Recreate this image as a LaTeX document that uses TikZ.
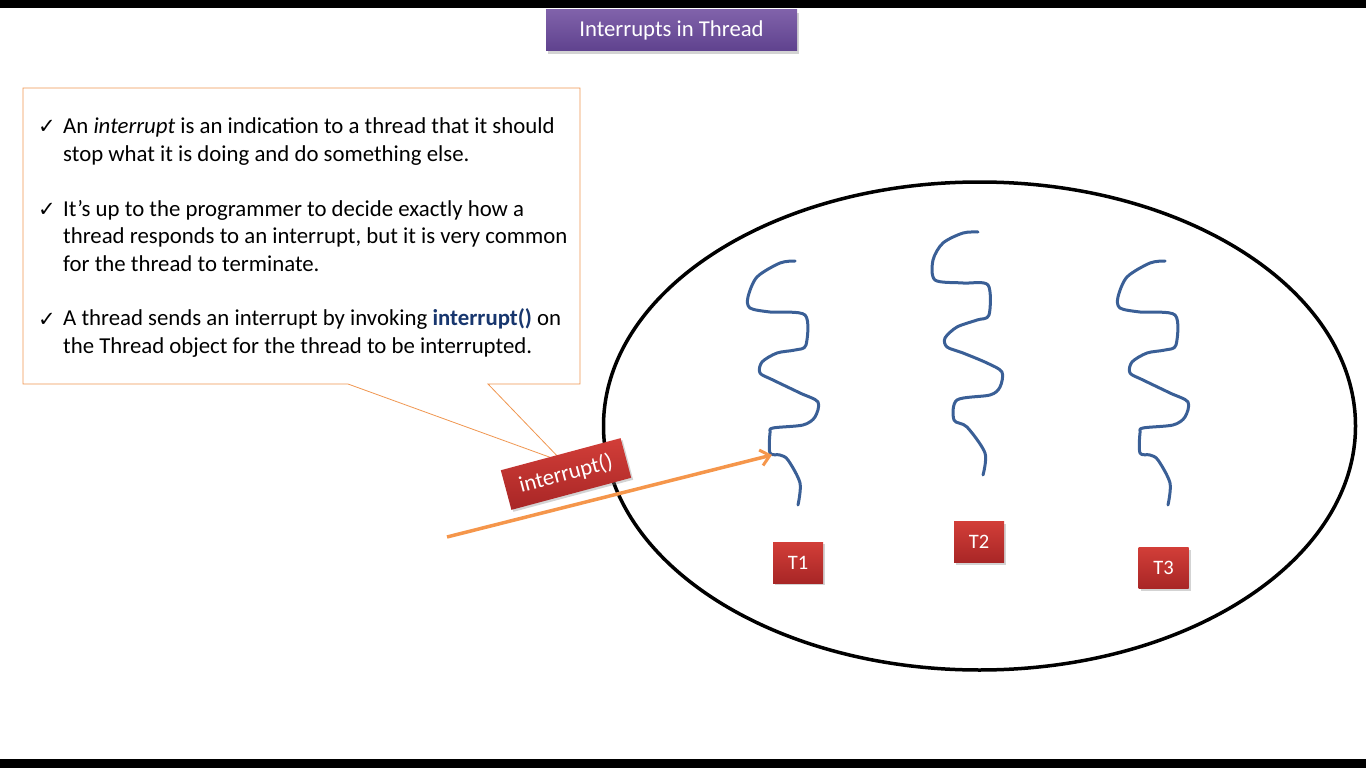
\documentclass[tikz,border=0pt]{standalone}
\usepackage{fontspec}
\setmainfont{Carlito}
\newfontfamily\symfont{DejaVu Sans}
\usepackage{xcolor}
\usepackage{tikz}
\usetikzlibrary{arrows.meta,positioning,shadows}

\definecolor{calloutorange}{RGB}{240,150,80}
\definecolor{arroworange}{RGB}{245,150,75}
\definecolor{threadblue}{RGB}{58,95,150}
\definecolor{codeblue}{RGB}{23,54,110}
\definecolor{boxredtop}{RGB}{210,62,56}
\definecolor{boxredbot}{RGB}{168,38,38}
\definecolor{titletop}{RGB}{128,98,170}
\definecolor{titlebot}{RGB}{95,66,142}
\newcommand{\chk}{{\symfont\fontsize{21pt}{21pt}\selectfont ✓}}

\begin{document}
\begin{tikzpicture}[x=1pt, y=-1pt,
  arr/.style={-{Straight Barb[length=9pt, width=16pt, line width=3pt]}, line width=3.5pt, arroworange},
  wire/.style={draw=threadblue, line width=3pt, line cap=round, line join=round},
  redbox/.style={rectangle, top color=boxredtop, bottom color=boxredbot,
                 minimum width=50pt, minimum height=41pt, text=white, font=\fontsize{20.5pt}{22pt}\selectfont,
                 drop shadow={opacity=.35, shadow xshift=2pt, shadow yshift=-2pt}},
  titlebox/.style={rectangle, top color=titletop, bottom color=titlebot,
                 minimum width=251pt, minimum height=41pt, text=white, font=\fontsize{22.7pt}{24pt}\selectfont,
                 drop shadow={opacity=.35, shadow xshift=2pt, shadow yshift=-3pt}},
  bullet/.style={anchor=base west, inner sep=0pt, align=left, font=\fontsize{22.8pt}{27.5pt}\selectfont},
  wavy/.pic={\draw[wire] plot[smooth, tension=.5] coordinates {(0,0) (-15,2) (-38,16) (-47,36) (-45,47) (-25,51) (10,54)
             (11,84) (0,89) (-18,92) (-33,101) (-35,112) (-22,119) (5,132) (23,141) (20,156) (8,164) (-22,167)
             (-25,172) (-25,192) (-15,194) (-7,199) (5,222) (3,244)};},
]
\useasboundingbox (0,0) rectangle (1366,768);

% Frame bars
\fill[black] (0,0) rectangle (1366,8);
\fill[black] (0,759) rectangle (1366,768);

% Title
\node[titlebox] (title) at (671.5,30.5) {Interrupts in Thread};

% Process
\draw[black, line width=3.5pt] (979.5,426) ellipse [x radius=376, y radius=244];

% Threads
\pic at (795,261) {wavy};
\draw[wire] plot[smooth, tension=.5] coordinates {(978,232) (963,233) (943,243) (933,260) (935,280) (963,283) (988,285)
  (989,315) (977,320) (957,327) (945,338) (947,347) (963,353) (987,363) (1002,372) (1000,387) (990,395) (957,400)
  (954,420) (967,427) (985,453) (983,475)};
\pic at (1165,261) {wavy};

\node[redbox] (t1) at (798,562.5) {T1};
\node[redbox] (t2) at (979,542) {T2};
\node[redbox] (t3) at (1163.5,568) {T3};

% Callout
\coordinate (tip) at (563,462);
\draw[calloutorange, fill=white, line width=0.8pt] (23,88) -- (580,88) -- (580,384) -- (488,384) -- (tip) -- (348,384) -- (23,384) -- cycle;

% base anchor = last line
\node[bullet] (c1) at (38,133) {\chk};
\node[bullet] (b1) at (63,161) {An \textit{interrupt} is an indication to a thread that it should\\stop what it is doing and do something else.};
\node[bullet] (c2) at (38,216) {\chk};
\node[bullet] (b2) at (63,271) {It's up to the programmer to decide exactly how a\\thread responds to an interrupt, but it is very common\\for the thread to terminate.};
\node[bullet] (c3) at (38,326) {\chk};
\node[bullet] (b3) at (63,353) {A thread sends an interrupt by invoking \textcolor{codeblue}{\textbf{interrupt()}} on\\the Thread object for the thread to be interrupted.};

% Interrupt call
\node[redbox, rotate=15, minimum width=124pt, minimum height=41pt, font=\fontsize{22.5pt}{24pt}\selectfont] (call) at (566,474) {interrupt()};
\coordinate (src) at (447,537);
\coordinate (hit) at (772,455);
\draw[arr] (src) -- (hit);
\end{tikzpicture}
\end{document}
